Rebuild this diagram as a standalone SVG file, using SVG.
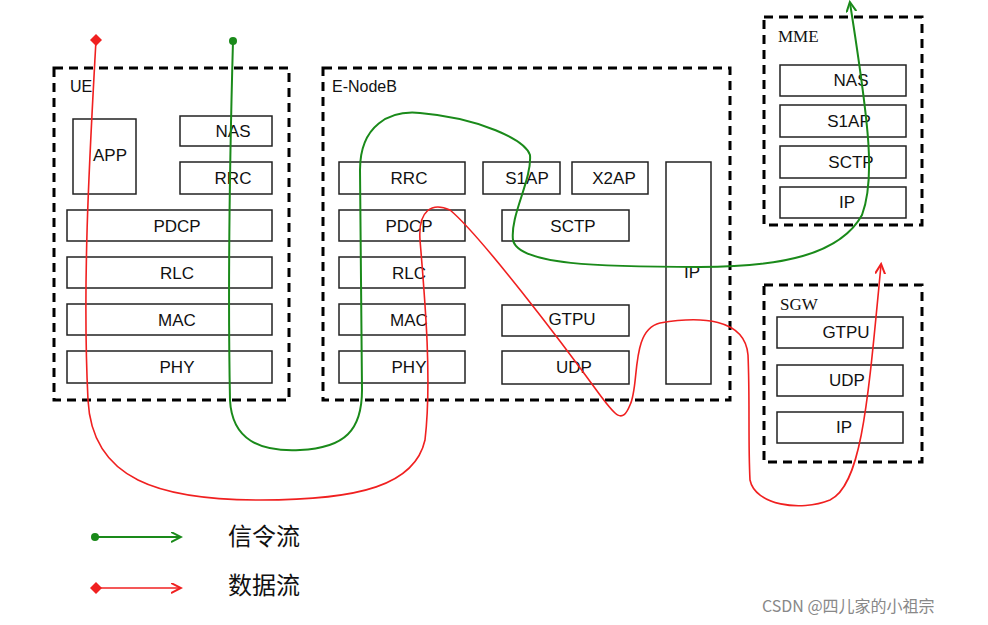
<svg xmlns="http://www.w3.org/2000/svg" width="988" height="625" viewBox="0 0 988 625">
<style>
.grp{fill:none;stroke:#000;stroke-width:3;stroke-dasharray:9,6}
.b{fill:#fff;stroke:#222;stroke-width:1.5}
.t{font-family:"Liberation Sans",Arial,sans-serif;font-size:17px;fill:#111;text-anchor:middle}
.s{font-family:"Liberation Serif",serif;font-size:17px;fill:#111}
.g{fill:none;stroke:#1a8a1a;stroke-width:2}
.r{fill:none;stroke:#f02020;stroke-width:1.6}
.cj{font-family:"Noto Sans CJK SC",sans-serif;font-size:24px;fill:#111}
</style>
<defs>
<marker id="ag" markerWidth="12" markerHeight="12" refX="9" refY="5" orient="auto" markerUnits="userSpaceOnUse"><path d="M0,0 L10,5 L0,10" fill="none" stroke="#1a8a1a" stroke-width="2"/></marker>
<marker id="ar" markerWidth="12" markerHeight="12" refX="9" refY="5" orient="auto" markerUnits="userSpaceOnUse"><path d="M0,0 L10,5 L0,10" fill="none" stroke="#f02020" stroke-width="2"/></marker>
</defs>
<rect width="988" height="625" fill="#fff"/>
<g id="UE">
<rect class="grp" x="54" y="68" width="235" height="332"/>
<text x="70" y="92" style="font-family:'Liberation Sans',sans-serif;font-size:16px;fill:#111">UE</text>
<rect class="b" x="73" y="119" width="63" height="75"/><text class="t" x="110" y="161">APP</text>
<rect class="b" x="180" y="116" width="92" height="30"/><text class="t" x="233" y="137">NAS</text>
<rect class="b" x="180" y="162" width="92" height="32"/><text class="t" x="233" y="184">RRC</text>
<rect class="b" x="67" y="210" width="205" height="31"/><text class="t" x="177" y="232">PDCP</text>
<rect class="b" x="67" y="257" width="205" height="31"/><text class="t" x="177" y="279">RLC</text>
<rect class="b" x="67" y="304" width="205" height="31"/><text class="t" x="177" y="326">MAC</text>
<rect class="b" x="67" y="351" width="205" height="32"/><text class="t" x="177" y="373">PHY</text>
</g>
<g id="ENodeB">
<rect class="grp" x="323" y="68" width="407" height="332"/>
<text x="332" y="92" style="font-family:'Liberation Sans',sans-serif;font-size:16px;fill:#111">E-NodeB</text>
<rect class="b" x="339" y="162" width="126" height="32"/><text class="t" x="409" y="184">RRC</text>
<rect class="b" x="339" y="210" width="126" height="31"/><text class="t" x="409" y="232">PDCP</text>
<rect class="b" x="339" y="257" width="126" height="31"/><text class="t" x="409" y="279">RLC</text>
<rect class="b" x="339" y="304" width="126" height="31"/><text class="t" x="409" y="326">MAC</text>
<rect class="b" x="339" y="351" width="126" height="32"/><text class="t" x="409" y="373">PHY</text>
<rect class="b" x="483" y="162" width="77" height="32"/><text class="t" x="527" y="184">S1AP</text>
<rect class="b" x="572" y="162" width="76" height="32"/><text class="t" x="614" y="184">X2AP</text>
<rect class="b" x="502" y="210" width="127" height="31"/><text class="t" x="573" y="232">SCTP</text>
<rect class="b" x="502" y="305" width="127" height="31"/><text class="t" x="572" y="325">GTPU</text>
<rect class="b" x="502" y="351" width="127" height="33"/><text class="t" x="574" y="373">UDP</text>
<rect class="b" x="666" y="162" width="45" height="222"/><text class="t" x="692" y="278">IP</text>
</g>
<g id="MME">
<rect class="grp" x="764" y="17" width="158" height="208"/>
<text class="s" x="778" y="42">MME</text>
<rect class="b" x="780" y="65" width="126" height="31"/><text class="t" x="851" y="86">NAS</text>
<rect class="b" x="780" y="105" width="126" height="32"/><text class="t" x="849" y="127">S1AP</text>
<rect class="b" x="780" y="146" width="126" height="32"/><text class="t" x="851" y="168">SCTP</text>
<rect class="b" x="780" y="187" width="126" height="31"/><text class="t" x="847" y="208">IP</text>
</g>
<g id="SGW">
<rect class="grp" x="764" y="285" width="158" height="177"/>
<text class="s" x="780" y="310">SGW</text>
<rect class="b" x="777" y="317" width="126" height="31"/><text class="t" x="846" y="338">GTPU</text>
<rect class="b" x="777" y="365" width="126" height="31"/><text class="t" x="847" y="386">UDP</text>
<rect class="b" x="777" y="412" width="126" height="31"/><text class="t" x="844" y="433">IP</text>
</g>
<g id="connectors">
<path class="g" marker-end="url(#ag)" d="M233,41 C230,150 228,300 230,400 C232,440 260,452 300,450 C345,448 362,430 362,390 L360,170 C360,125 390,110 420,113 C480,118 525,140 530,155 C532,180 510,215 513,240 C518,265 600,267 700,267 C780,267 840,255 862,215 C875,180 870,130 850,3"/>
<path class="r" marker-end="url(#ar)" d="M96,40 C90,150 82,280 88,400 C92,480 160,500 260,500 C360,500 415,485 425,440 C432,380 425,300 420,240 C418,210 432,202 450,210 C480,235 560,340 600,395 C615,415 622,425 630,405 C640,385 630,330 660,323 C700,316 745,318 748,355 C750,400 748,440 750,480 C755,505 800,512 830,500 C862,485 868,400 881,265"/>
</g>
<g id="legend">
<circle cx="95" cy="537" r="4" fill="#1a8a1a"/>
<line class="g" x1="95" y1="537" x2="180" y2="537" marker-end="url(#ag)"/>
<text class="cj" x="228" y="545">信令流</text>
<path d="M96,582 L102,588 L96,594 L90,588Z" fill="#f02020"/>
<line class="r" x1="96" y1="588" x2="180" y2="588" marker-end="url(#ar)"/>
<text class="cj" x="228" y="594">数据流</text>
<path d="M96,34 L102,40 L96,46 L90,40Z" fill="#f02020"/>
<circle cx="233" cy="41" r="4" fill="#1a8a1a"/>
</g>
<text x="762" y="612" style="font-family:'Noto Sans CJK SC',sans-serif;font-size:16px;fill:#888">CSDN @四儿家的小祖宗</text>
</svg>
